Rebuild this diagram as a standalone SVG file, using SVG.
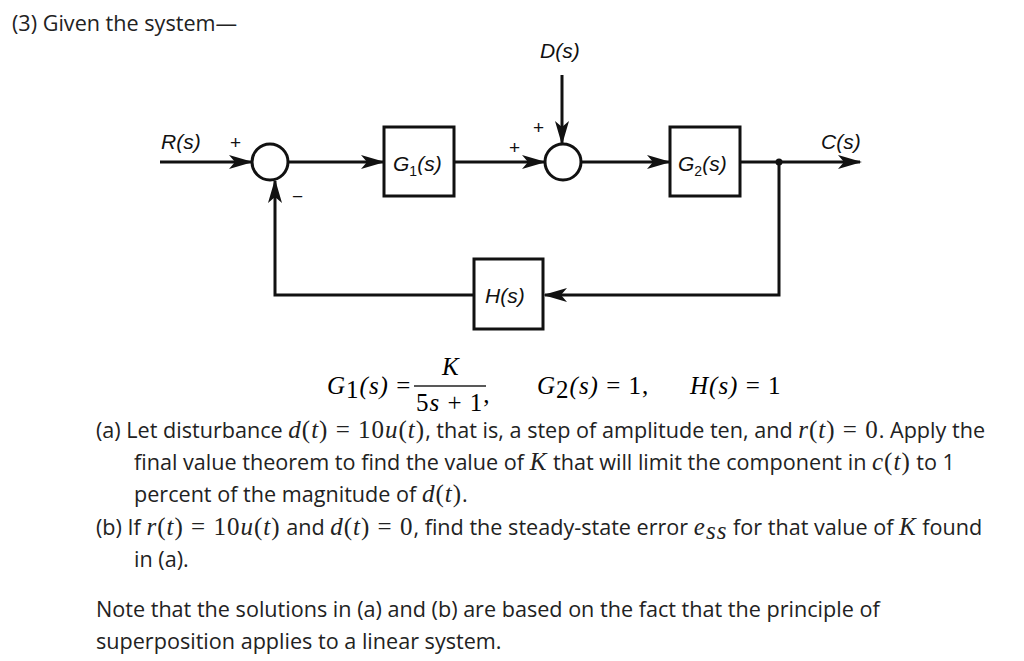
<svg xmlns="http://www.w3.org/2000/svg" width="1024" height="661" viewBox="0 0 1024 661">
<style>
.t{font-family:"Open Sans","Liberation Sans",sans-serif;font-size:21.6px;fill:#222}
.m{font-family:"Liberation Serif",serif;font-size:25px;font-style:italic;letter-spacing:1px}
.r{font-family:"Liberation Serif",serif;font-size:25px;font-style:normal;letter-spacing:1px}
.d{font-family:"Liberation Sans",Arial,sans-serif;font-size:21px;font-style:italic;fill:#111}
.s{font-family:"Liberation Sans",Arial,sans-serif;font-size:19px;fill:#111}
.b{fill:#fff;stroke:#111;stroke-width:3}
.w{fill:none;stroke:#111;stroke-width:3}
</style>
<defs><marker id="a" markerWidth="24" markerHeight="14" refX="22" refY="7" orient="auto" markerUnits="userSpaceOnUse"><path d="M0,0 L24,7 L0,14 L6,7 Z" fill="#111"/></marker></defs>
<rect width="1024" height="661" fill="#fff"/>
<text class="t" x="12" y="31">(3)  Given the system—</text>
<g id="connectors" class="w" marker-end="url(#a)">
<line x1="160" y1="162" x2="251" y2="162"/>
<line x1="289" y1="162" x2="383" y2="162"/>
<line x1="455" y1="162" x2="544" y2="162"/>
<line x1="562" y1="75" x2="562" y2="143"/>
<line x1="582" y1="162" x2="669" y2="162"/>
<line x1="741" y1="162" x2="860" y2="162"/>
<polyline points="779,162 779,295 545,295"/>
<polyline points="473,295 275,295 275,181"/>
</g>
<circle cx="779" cy="162" r="3.5" fill="#111"/>
<g id="sum1"><circle class="b" cx="270" cy="162" r="18"/></g>
<g id="sum2"><circle class="b" cx="563" cy="162" r="18"/></g>
<g id="G1"><rect class="b" x="384" y="127" width="70" height="69"/><text class="d" x="393" y="171">G<tspan font-size="14" dy="5" font-style="normal">1</tspan><tspan dy="-5">(s)</tspan></text></g>
<g id="G2"><rect class="b" x="670" y="127" width="70" height="69"/><text class="d" x="678" y="171">G<tspan font-size="14" dy="5" font-style="normal">2</tspan><tspan dy="-5">(s)</tspan></text></g>
<g id="H"><rect class="b" x="474" y="259" width="69" height="70"/><text class="d" x="485" y="303">H(s)</text></g>
<text class="d" x="540" y="58">D(s)</text>
<text class="d" x="161" y="149">R(s)</text>
<text class="d" x="821" y="149">C(s)</text>
<text class="s" x="230" y="149">+</text>
<text class="s" x="533" y="134">+</text>
<text class="s" x="509" y="154">+</text>
<text class="s" x="292" y="203">−</text>
<text class="m" x="442" y="375">K</text>
<line x1="414" y1="386" x2="486" y2="386" stroke="#222" stroke-width="1.3"/>
<text class="m" x="327" y="394">G<tspan class="r" font-size="16" dy="4">1</tspan><tspan dy="-4">(s)</tspan><tspan class="r"> =</tspan></text>
<text class="r" x="416" y="411">5<tspan class="m">s</tspan> + 1<tspan dy="-8">,</tspan></text>
<text class="m" x="537" y="394">G<tspan class="r" font-size="16" dy="4">2</tspan><tspan dy="-4">(s)</tspan><tspan class="r"> = 1,</tspan></text>
<text class="m" x="690" y="394">H<tspan>(s)</tspan><tspan class="r"> = 1</tspan></text>
<text class="t" x="96" y="438">(a)  Let disturbance <tspan class="m">d</tspan><tspan class="r">(</tspan><tspan class="m">t</tspan><tspan class="r">)  =  10</tspan><tspan class="m">u</tspan><tspan class="r">(</tspan><tspan class="m">t</tspan><tspan class="r">)</tspan>, that is, a step of amplitude ten, and <tspan class="m">r</tspan><tspan class="r">(</tspan><tspan class="m">t</tspan><tspan class="r">)  =  0</tspan>.  Apply the</text>
<text class="t" x="134" y="470">final value theorem to find the value of <tspan class="m">K</tspan> that will limit the component in <tspan class="m">c</tspan><tspan class="r">(</tspan><tspan class="m">t</tspan><tspan class="r">)</tspan> to 1</text>
<text class="t" x="134" y="502">percent of the magnitude of <tspan class="m">d</tspan><tspan class="r">(</tspan><tspan class="m">t</tspan><tspan class="r">)</tspan>.</text>
<text class="t" x="96" y="535">(b)  If <tspan class="m">r</tspan><tspan class="r">(</tspan><tspan class="m">t</tspan><tspan class="r">)  =  10</tspan><tspan class="m">u</tspan><tspan class="r">(</tspan><tspan class="m">t</tspan><tspan class="r">)</tspan> and <tspan class="m">d</tspan><tspan class="r">(</tspan><tspan class="m">t</tspan><tspan class="r">)  =  0</tspan>, find the steady-state error <tspan class="m">e</tspan><tspan class="m" font-size="17" dy="4">ss</tspan><tspan dy="-4"> for that value of </tspan><tspan class="m">K</tspan> found</text>
<text class="t" x="134" y="567">in (a).</text>
<text class="t" x="96" y="617">Note that the solutions in (a) and (b) are based on the fact that the principle of</text>
<text class="t" x="96" y="649">superposition applies to a linear system.</text>
</svg>
